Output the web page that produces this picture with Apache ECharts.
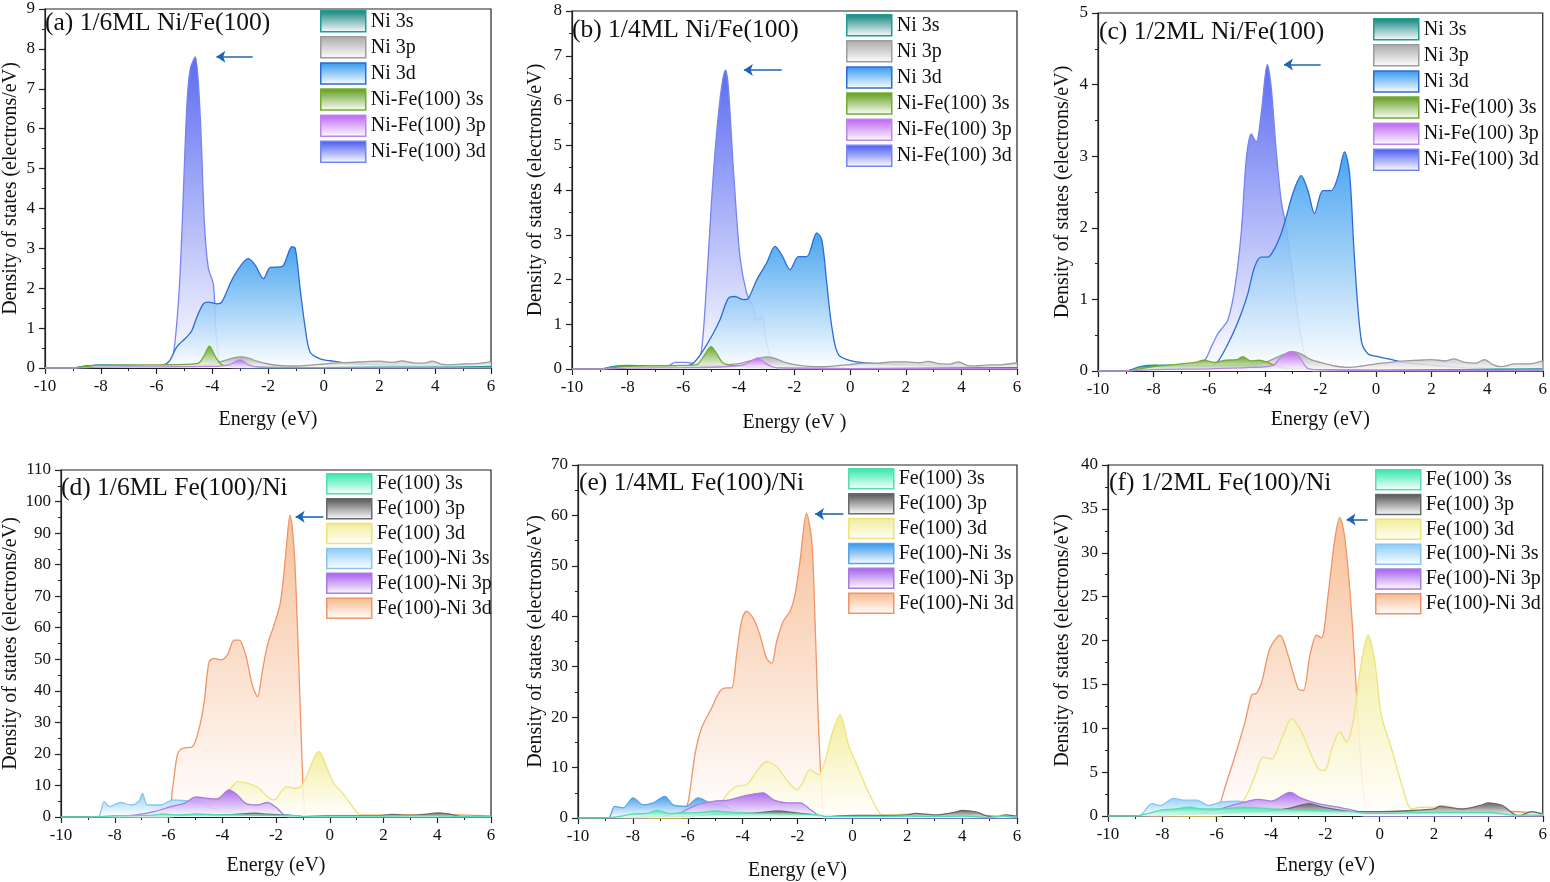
<!DOCTYPE html>
<html><head><meta charset="utf-8">
<script src="https://cdn.jsdelivr.net/npm/echarts@6/dist/echarts.min.js"></script>
<style>html,body{margin:0;padding:0;background:#fff}#c{width:1550px;height:882px}</style>
</head><body><div id="c"></div>
<script>
// ---------------- DATA ----------------
const titles = ['(a) 1/6ML Ni/Fe(100)','(b) 1/4ML Ni/Fe(100)','(c) 1/2ML Ni/Fe(100)','(d) 1/6ML Fe(100)/Ni','(e) 1/4ML Fe(100)/Ni','(f) 1/2ML Fe(100)/Ni'];
const xNames = ['Energy (eV)','Energy (eV )','Energy (eV)','Energy (eV)','Energy (eV)','Energy (eV)'];
const yName = 'Density of states (electrons/eV)';
const xMin = -10, xMax = 6, xInterval = 2;
const yMaxes = [9, 8, 5, 110, 70, 40];
const yIntervals = [1, 1, 1, 10, 10, 5];
const topNames = ['Ni 3s','Ni 3p','Ni 3d','Ni-Fe(100) 3s','Ni-Fe(100) 3p','Ni-Fe(100) 3d'];
const bottomNames = ['Fe(100) 3s','Fe(100) 3p','Fe(100) 3d','Fe(100)-Ni 3s','Fe(100)-Ni 3p','Fe(100)-Ni 3d'];
// arrow annotations: [x start, x end (head), y]
const arrows = [[-2.55,-3.85,7.8],[-2.46,-3.82,6.68],[-1.99,-3.31,4.28],[-0.24,-1.27,95.2],[-0.33,-1.36,60.3],[-0.45,-1.22,33.8]];

// panel (a)
const a_Ni3s = [[-10,0],[-9,0],[-8.5,0.05],[-8,0.07],[-7,0.07],[-6,0.06],[-5,0.07],[-4.5,0.06],[-4,0.05],[-3.5,0.03],[-3,0.02],[-2,0.01],[0,0.01],[2,0.02],[4,0.02],[6,0.04]];
const a_Ni3p = [[-10,0],[-9,0],[-8.5,0.03],[-7,0.04],[-6,0.04],[-5,0.06],[-4,0.1],[-3.6,0.18],[-3.2,0.26],[-3.0,0.28],[-2.7,0.25],[-2.4,0.17],[-2,0.1],[-1.5,0.06],[-1,0.05],[-0.5,0.07],[0,0.1],[0.5,0.13],[1,0.14],[1.5,0.16],[2,0.17],[2.5,0.14],[2.8,0.18],[3.2,0.13],[3.6,0.12],[3.9,0.17],[4.2,0.1],[4.5,0.08],[5,0.1],[5.5,0.11],[6,0.16]];
const a_Ni3d = [[-10,0],[-9,0],[-8.5,0.05],[-8,0.07],[-7,0.06],[-6,0.05],[-5.57,0.15],[-5.27,0.53],[-4.91,0.78],[-4.73,0.94],[-4.55,1.28],[-4.32,1.61],[-4.14,1.65],[-3.84,1.61],[-3.66,1.65],[-3.24,2.28],[-2.7,2.74],[-2.46,2.58],[-2.16,2.24],[-1.92,2.52],[-1.5,2.54],[-1.14,3.04],[-1.02,3.0],[-0.84,1.95],[-0.67,1.03],[-0.49,0.4],[-0.13,0.23],[0.35,0.17],[0.95,0.11],[2,0.08],[3,0.06],[4,0.05],[5,0.04],[6,0.03]];
const a_NiFe3s = [[-10,0],[-9,0],[-8.5,0.04],[-8,0.07],[-7,0.07],[-6,0.08],[-5,0.09],[-4.5,0.12],[-4.3,0.3],[-4.1,0.55],[-3.9,0.3],[-3.7,0.1],[-3.4,0.04],[-3,0.02],[0,0.01],[6,0.01]];
const a_NiFe3p = [[-10,0],[-9,0],[-8,0.02],[-6,0.03],[-4,0.04],[-3.4,0.08],[-3.0,0.2],[-2.7,0.08],[-2.3,0.02],[0,0.01],[6,0.01]];
const a_NiFe3d = [[-10,0],[-9,0],[-8.5,0.04],[-7,0.05],[-6,0.06],[-5.57,0.1],[-5.39,0.36],[-5.2,1.8],[-5.09,3.4],[-4.91,6.6],[-4.79,7.5],[-4.61,7.8],[-4.43,6.3],[-4.28,3.6],[-4.14,2.5],[-3.96,2.1],[-3.86,0.86],[-3.72,0.1],[-3.5,0.03],[-3,0],[6,0]];

// panel (b)
const b_Ni3s = [[-10,0],[-9,0],[-8.5,0.06],[-8,0.08],[-7,0.07],[-6,0.06],[-5,0.08],[-4,0.06],[-3.5,0.04],[-3,0.02],[0,0.01],[3,0.02],[6,0.03]];
const b_Ni3p = [[-10,0],[-9,0],[-8.5,0.03],[-7,0.04],[-6,0.05],[-5,0.07],[-4,0.12],[-3.5,0.2],[-3.0,0.27],[-2.7,0.24],[-2.4,0.16],[-2,0.1],[-1.5,0.06],[-1,0.05],[-0.5,0.07],[0,0.1],[0.5,0.13],[1,0.13],[1.5,0.16],[2,0.16],[2.5,0.14],[2.8,0.17],[3.2,0.12],[3.6,0.11],[3.9,0.16],[4.2,0.08],[4.5,0.07],[5,0.09],[5.5,0.1],[6,0.14]];
const b_Ni3d = [[-10,0],[-9,0],[-8.5,0.05],[-8,0.07],[-7,0.06],[-6,0.06],[-5.64,0.13],[-5.34,0.36],[-4.92,0.8],[-4.68,1.1],[-4.38,1.58],[-4.14,1.62],[-3.84,1.55],[-3.66,1.58],[-3.36,1.99],[-3.0,2.37],[-2.7,2.74],[-2.46,2.55],[-2.16,2.22],[-1.86,2.51],[-1.56,2.51],[-1.2,3.04],[-1.02,2.89],[-0.84,1.92],[-0.66,0.95],[-0.42,0.32],[0.12,0.17],[1,0.12],[2,0.09],[3,0.07],[4,0.05],[5,0.04],[6,0.03]];
const b_NiFe3s = [[-10,0],[-9,0],[-8.5,0.03],[-8,0.06],[-7,0.07],[-6,0.08],[-5.5,0.1],[-5.25,0.3],[-5.0,0.5],[-4.8,0.35],[-4.6,0.15],[-4.3,0.08],[-3.5,0.04],[-3,0.02],[0,0.01],[6,0.01]];
const b_NiFe3p = [[-10,0],[-9,0],[-8,0.02],[-6,0.03],[-4.5,0.05],[-3.8,0.1],[-3.3,0.25],[-3.1,0.15],[-2.8,0.05],[-2.4,0.02],[0,0.01],[6,0.01]];
const b_NiFe3d = [[-10,0],[-9,0],[-8.5,0.04],[-7,0.05],[-6.5,0.08],[-6.3,0.15],[-5.9,0.15],[-5.52,0.12],[-5.34,0.43],[-5.16,1.92],[-4.98,3.78],[-4.8,5.27],[-4.62,6.31],[-4.48,6.68],[-4.38,6.31],[-4.2,4.5],[-3.96,2.5],[-3.72,1.7],[-3.48,1.36],[-3.36,1.1],[-3.18,1.18],[-3.0,0.58],[-2.76,0.06],[-2.5,0],[6,0]];

// panel (c)
const c_Ni3s = [[-10,0],[-9,0],[-8.5,0.06],[-8,0.08],[-7,0.08],[-6,0.07],[-5,0.08],[-4,0.06],[-3.5,0.04],[-3,0.02],[0,0.01],[3,0.02],[6,0.03]];
const c_Ni3p = [[-10,0],[-9,0],[-8.5,0.03],[-7,0.04],[-6,0.05],[-5,0.07],[-4,0.12],[-3.5,0.2],[-3.0,0.27],[-2.7,0.24],[-2.4,0.17],[-2,0.12],[-1.5,0.07],[-1,0.05],[-0.5,0.07],[0,0.1],[0.5,0.12],[1,0.14],[1.5,0.15],[2,0.16],[2.5,0.14],[2.8,0.17],[3.2,0.12],[3.6,0.11],[3.9,0.16],[4.2,0.09],[4.5,0.06],[5,0.1],[5.5,0.1],[6,0.14]];
const c_Ni3d = [[-10,0],[-9,0],[-8.5,0.05],[-8,0.07],[-7,0.06],[-6,0.06],[-5.69,0.13],[-5.21,0.47],[-4.85,0.8],[-4.61,1.08],[-4.37,1.45],[-4.13,1.59],[-3.89,1.59],[-3.65,1.71],[-3.41,1.92],[-3.23,2.15],[-2.99,2.48],[-2.69,2.73],[-2.45,2.52],[-2.21,2.2],[-1.91,2.52],[-1.61,2.52],[-1.37,2.71],[-1.13,3.06],[-0.95,2.76],[-0.77,1.55],[-0.53,0.43],[-0.29,0.24],[0.07,0.2],[0.67,0.15],[1,0.12],[2,0.08],[3,0.05],[4,0.04],[5,0.03],[6,0.03]];
const c_NiFe3s = [[-10,0],[-9,0],[-8.5,0.03],[-8,0.06],[-7.5,0.08],[-7,0.1],[-6.5,0.12],[-6.2,0.15],[-5.8,0.12],[-5.4,0.15],[-5,0.16],[-4.8,0.2],[-4.5,0.14],[-4.2,0.15],[-3.9,0.12],[-3.5,0.06],[-3,0.03],[0,0.01],[6,0.01]];
const c_NiFe3p = [[-10,0],[-9,0],[-8,0.02],[-6,0.03],[-4.5,0.05],[-3.7,0.08],[-3.4,0.2],[-3.05,0.27],[-2.8,0.22],[-2.5,0.05],[-2.2,0.02],[0,0.01],[6,0.01]];
const c_NiFe3d = [[-10,0],[-9,0],[-8.5,0.04],[-7,0.05],[-6.5,0.08],[-6.16,0.15],[-5.92,0.34],[-5.69,0.52],[-5.51,0.61],[-5.33,0.71],[-5.09,1.13],[-4.85,1.92],[-4.67,2.94],[-4.49,3.31],[-4.31,3.2],[-4.13,3.59],[-3.91,4.28],[-3.77,3.97],[-3.59,3.08],[-3.41,2.38],[-3.23,2.01],[-3.05,1.5],[-2.81,0.75],[-2.57,0.24],[-2.39,0.03],[-2.2,0],[6,0]];

// panel (d)
const d_Fe3s = [[-10,0],[-9,0],[-8.5,0.2],[-8,0.4],[-7,0.5],[-6.5,0.7],[-6.2,1.0],[-5.8,0.7],[-5.2,0.8],[-5,1.0],[-4.5,0.8],[-4,0.7],[-3,0.6],[-2,0.5],[-1.2,0.4],[-1,0.2],[0,0.3],[2,0.3],[4,0.4],[5,0.2],[6,0.2]];
const d_Fe3p = [[-10,0],[-9,0],[-8,0.1],[-7,0.2],[-6,0.3],[-5,0.6],[-4,0.7],[-3.5,0.8],[-2.8,1.2],[-2.3,0.9],[-1.5,0.5],[-1,0.1],[-0.5,0.3],[0,0.4],[1,0.4],[2,0.5],[2.3,0.8],[3,0.5],[3.7,1.0],[4,1.3],[4.4,1.0],[4.8,0.3],[5.2,0.2],[5.6,0.3],[6,0.2]];
const d_Fe3d = [[-10,0],[-6,0],[-5.54,0.6],[-4.8,2.7],[-4.18,5.9],[-3.68,9.1],[-3.44,11.2],[-3.07,10.7],[-2.63,9.1],[-2.32,6.4],[-2.07,5.4],[-1.76,8.6],[-1.58,9.6],[-1.33,9.1],[-1.08,9.6],[-0.84,13.3],[-0.53,19.7],[-0.4,20.7],[-0.15,16.5],[0.15,10.7],[0.53,7.0],[0.9,2.7],[1.15,0.6],[1.5,0.5],[2,0.6],[3,0.5],[4,0.6],[5,0.4],[6,0.3]];
const d_FeNi3s = [[-10,0],[-8.64,0],[-8.39,4.9],[-8.2,3.3],[-7.77,4.6],[-7.4,3.8],[-7.1,5],[-6.97,7.5],[-6.78,3.8],[-6.28,3.8],[-5.85,5.4],[-5.29,5.1],[-4.8,4.9],[-4.3,2.7],[-3.56,1.2],[-3,0.8],[-2,0.8],[-1.5,0.7],[-1.1,0.3],[-0.9,0],[6,0]];
const d_FeNi3p = [[-10,0],[-8,0.2],[-7.28,0.6],[-6.53,1.7],[-5.91,3.3],[-5.42,4.3],[-4.98,6.4],[-4.55,5.9],[-4.18,5.7],[-3.75,8.6],[-3.44,7.0],[-3.13,4.3],[-2.69,3.8],[-2.32,4.6],[-1.95,2.7],[-1.7,0.6],[-1.5,0],[6,0]];
const d_FeNi3d = [[-10,0],[-6.1,0],[-5.85,9.1],[-5.67,19.7],[-5.48,21.8],[-5.11,22.3],[-4.86,28.1],[-4.67,36.6],[-4.49,49.2],[-4.3,50.3],[-4.06,49.8],[-3.81,51.4],[-3.56,56.1],[-3.37,56.1],[-3.13,51.4],[-2.88,41.8],[-2.69,38.1],[-2.51,46.1],[-2.32,54.5],[-2.07,60.9],[-1.83,68.3],[-1.64,83.1],[-1.48,95.7],[-1.33,85.2],[-1.21,61.9],[-1.08,30.2],[-0.96,4.9],[-0.84,0.3],[-0.5,0.3],[0,0.5],[2,0.6],[4,0.8],[6,0.3]];

// panel (e)
const e_Fe3s = [[-10,0],[-9,0],[-8.5,0.3],[-8,0.8],[-7.5,0.9],[-7.1,1.5],[-6.7,0.9],[-6.2,1.0],[-5.5,1.1],[-5,1.4],[-4.5,1.2],[-4,1.0],[-3,0.9],[-2,0.8],[-1.2,0.6],[-1,0.3],[0,0.3],[1,0.3],[2,0.4],[3,0.3],[4,0.4],[5,0.1],[5.5,0.4],[6,0.1]];
const e_Fe3p = [[-10,0],[-9,0],[-8,0.1],[-7,0.2],[-6,0.3],[-5,0.7],[-4,0.9],[-3.5,1.0],[-2.7,1.4],[-2.2,1.1],[-1.5,0.7],[-1,0.2],[-0.5,0.4],[0,0.5],[1,0.5],[2,0.6],[2.3,0.9],[3,0.6],[3.7,1.1],[4,1.5],[4.5,1.2],[4.9,0.4],[5.2,0.1],[5.6,0.6],[6,0.3]];
const e_Fe3d = [[-10,0],[-6,0],[-5.8,0.3],[-5.07,1.0],[-4.59,4.6],[-4.22,6.3],[-3.86,6.6],[-3.49,9.2],[-3.13,11.2],[-2.76,10.2],[-2.4,7.6],[-2.03,5.6],[-1.85,6.6],[-1.54,9.6],[-1.24,8.6],[-1.0,11.2],[-0.75,16.5],[-0.45,20.5],[-0.14,14.5],[0.16,10.6],[0.52,5.9],[0.95,1.3],[1.13,0.5],[1.5,0.6],[2,0.8],[3,0.6],[4,0.7],[5,0.3],[5.6,0.6],[6,0.2]];
const e_FeNi3s = [[-10,0],[-8.9,0],[-8.66,2.3],[-8.36,2.0],[-7.99,4.0],[-7.63,2.6],[-7.26,3.0],[-6.84,4.3],[-6.53,2.6],[-6.05,2.3],[-5.62,4.0],[-5.19,3.0],[-4.71,2.6],[-4.22,1.3],[-3.5,0.9],[-2.5,0.8],[-1.5,0.7],[-1.2,0.3],[-1.0,0],[6,0]];
const e_FeNi3p = [[-10,0],[-7.5,0.1],[-7.02,0.3],[-6.29,1.0],[-5.68,2.6],[-5.07,3.3],[-4.46,3.6],[-3.86,4.5],[-3.25,5.0],[-2.88,3.6],[-2.4,3.0],[-1.91,3.0],[-1.54,1.7],[-1.18,0.3],[-1.0,0],[6,0]];
const e_FeNi3d = [[-10,0],[-6.25,0],[-6.17,0.7],[-5.98,3.3],[-5.74,12.5],[-5.5,17.8],[-5.13,21.8],[-4.83,25.1],[-4.59,25.8],[-4.4,25.8],[-4.22,32.4],[-4.04,39.0],[-3.86,41.0],[-3.61,39.6],[-3.37,36.3],[-3.13,31.7],[-2.94,30.7],[-2.76,35.0],[-2.52,39.0],[-2.27,41.0],[-2.09,44.3],[-1.91,50.9],[-1.67,60.4],[-1.48,54.8],[-1.36,39.0],[-1.24,19.2],[-1.12,5.9],[-1.0,0.7],[0,0.5],[2,0.5],[4,0.6],[6,0.3]];

// panel (f)
const f_Fe3s = [[-10,0],[-9,0],[-8.5,0.3],[-8,0.7],[-7.5,0.8],[-7,1.0],[-6.5,0.8],[-6,0.8],[-5,1.0],[-4,0.8],[-3,0.7],[-2,0.6],[-1,0.5],[-0.5,0.3],[0,0.3],[2,0.4],[4,0.4],[5,0.1],[6,0.1]];
const f_Fe3p = [[-10,0],[-9,0],[-8,0.1],[-7,0.2],[-6,0.3],[-5,0.5],[-4,0.6],[-3.3,0.9],[-2.6,1.4],[-2.1,1.0],[-1.5,0.7],[-1,0.5],[0,0.5],[1,0.6],[2,0.8],[2.2,1.1],[3,0.8],[3.7,1.2],[4,1.5],[4.5,1.2],[4.9,0.3],[5.1,0.0],[5.6,0.5],[6,0.2]];
const f_Fe3d = [[-10,0],[-6,0],[-5.45,0.5],[-4.96,2.0],[-4.59,4.6],[-4.28,6.7],[-3.98,6.5],[-3.61,8.8],[-3.24,11.1],[-2.88,9.6],[-2.51,6.9],[-2.26,5.4],[-2.02,5.2],[-1.77,7.6],[-1.47,9.6],[-1.22,8.4],[-0.98,10.7],[-0.73,16.4],[-0.43,20.6],[-0.18,17.6],[0.06,11.5],[0.43,7.7],[0.86,3.1],[1.16,0.8],[1.5,1.0],[2,1.0],[2.3,1.2],[3,0.8],[4,1.0],[4.6,0.8],[5,0],[5.6,0.5],[6,0.2]];
const f_FeNi3s = [[-10,0],[-8.87,0],[-8.38,1.4],[-8.08,1.2],[-7.59,2.0],[-7.16,1.8],[-6.73,1.8],[-6.3,1.2],[-5.81,1.6],[-5.2,1.7],[-4.71,1.2],[-4,0.9],[-3,0.8],[-2,0.7],[-1,0.4],[-0.6,0],[6,0]];
const f_FeNi3p = [[-10,0],[-7.5,0.05],[-6.79,0.15],[-5.94,0.76],[-5.2,1.4],[-4.47,1.9],[-3.98,1.7],[-3.3,2.7],[-2.88,2.0],[-2.26,1.4],[-1.53,1.0],[-0.79,0.5],[-0.55,0],[6,0]];
const f_FeNi3d = [[-10,0],[-6.1,0],[-5.94,0.8],[-5.63,3.9],[-5.32,6.9],[-4.96,10.7],[-4.71,13.8],[-4.53,14.0],[-4.34,15.3],[-4.04,19.1],[-3.67,20.6],[-3.37,18.3],[-3.0,14.5],[-2.81,14.3],[-2.57,18.3],[-2.32,20.6],[-2.14,20.3],[-1.9,25.2],[-1.65,31.6],[-1.47,34.0],[-1.28,31.6],[-1.04,23.3],[-0.79,10.7],[-0.61,3.1],[-0.43,0.3],[0,0.5],[2,0.6],[4,0.6],[6,0.3]];

// series data per panel, in legend order
const panelData = [
  [a_Ni3s, a_Ni3p, a_Ni3d, a_NiFe3s, a_NiFe3p, a_NiFe3d],
  [b_Ni3s, b_Ni3p, b_Ni3d, b_NiFe3s, b_NiFe3p, b_NiFe3d],
  [c_Ni3s, c_Ni3p, c_Ni3d, c_NiFe3s, c_NiFe3p, c_NiFe3d],
  [d_Fe3s, d_Fe3p, d_Fe3d, d_FeNi3s, d_FeNi3p, d_FeNi3d],
  [e_Fe3s, e_Fe3p, e_Fe3d, e_FeNi3s, e_FeNi3p, e_FeNi3d],
  [f_Fe3s, f_Fe3p, f_Fe3d, f_FeNi3s, f_FeNi3p, f_FeNi3d]
];

// ---------------- STYLE / LAYOUT ----------------
const FONT = '"Liberation Serif", "Times New Roman", serif';
const styleMap = {
  'Ni 3s': {fill:'#10827c', line:'#1f9a94'},
  'Ni 3p': {fill:'#a9a9a9', line:'#9c9c9c'},
  'Ni 3d': {fill:'#2f98ee', line:'#2b6cd4'},
  'Ni-Fe(100) 3s': {fill:'#5e9c18', line:'#74ac30'},
  'Ni-Fe(100) 3p': {fill:'#bb62f2', line:'#b887e8'},
  'Ni-Fe(100) 3d': {fill:'#4658ef', line:'#7585ef'},
  'Fe(100) 3s': {fill:'#2ee8a6', line:'#55dcb0'},
  'Fe(100) 3p': {fill:'#505050', line:'#6a6a6a'},
  'Fe(100) 3d': {fill:'#f2ec94', line:'#ebe47c'},
  'Fe(100)-Ni 3s': {fill:'#86cbf7', line:'#8ac4ee'},
  'Fe(100)-Ni 3p': {fill:'#a45cee', line:'#a57de0'},
  'Fe(100)-Ni 3d': {fill:'#f6b88c', line:'#ef9466'}
};
const styleOverride = {4: {'Fe(100)-Ni 3s': {fill:'#2e92ea', line:'#55a5ea'}}};
const drawOrderTop = [5, 2, 1, 0, 3, 4];
const drawOrderBottom = [5, 2, 3, 4, 1, 0];
const grids = [
  {left:45, top:9, width:446, height:359},
  {left:572, top:11, width:445, height:358},
  {left:1098, top:13, width:445, height:358},
  {left:60, top:470, width:431, height:347},
  {left:578, top:465, width:439, height:353},
  {left:1108, top:465, width:436, height:351}
];
// [left, top, itemHeight, itemGap]
const legendPos = [[320,10,21,3.6],[846,14,21,3.6],[1373,18,21,3.6],[326,473,20,3.4],[848,468,20,3.4],[1375,469,20,3.3]];
const titlePos = [[45,10],[572,17],[1099,19],[61,475],[579,470],[1109,470]];
const xNameGap = [42,44,39,39,43,40];
const yNameGap = [24,26,25,40,32,35];

function grad(c){
  return {type:'linear', x:0, y:0, x2:0, y2:1, colorStops:[{offset:0,color:c},{offset:1,color:'#ffffff'}]};
}
function styleFor(p, name){
  return (styleOverride[p] && styleOverride[p][name]) || styleMap[name];
}

const option = {
  animation: false,
  backgroundColor: '#ffffff',
  title: [], grid: [], xAxis: [], yAxis: [], legend: [], series: []
};

for (let p = 0; p < 6; p++) {
  const names = p < 3 ? topNames : bottomNames;
  const order = p < 3 ? drawOrderTop : drawOrderBottom;
  const g = grids[p];
  option.grid.push(Object.assign({show:true, borderColor:'#222', borderWidth:1.2, backgroundColor:'rgba(0,0,0,0)'}, g));
  option.title.push({
    text: titles[p], left: titlePos[p][0], top: titlePos[p][1], padding: 0,
    textStyle: {fontFamily: FONT, fontSize: 25.5, fontWeight: 'normal', color: '#111'}
  });
  const axisCommon = {
    gridIndex: p,
    axisLine: {show:true, onZero:false, lineStyle:{color:'#222', width:1.2}},
    axisTick: {show:true, inside:false, length:6, lineStyle:{color:'#222', width:1.2}},
    minorTick: {show:true, splitNumber:2, length:3, lineStyle:{color:'#222', width:1}},
    splitLine: {show:false},
    nameLocation: 'middle',
    nameTextStyle: {fontFamily: FONT, fontSize: 20, color: '#111'}
  };
  option.xAxis.push(Object.assign({}, axisCommon, {
    type: 'value', min: xMin, max: xMax, interval: xInterval,
    name: xNames[p], nameGap: xNameGap[p],
    axisLabel: {fontFamily: FONT, fontSize: 17, color: '#111', margin: 10}
  }));
  option.yAxis.push(Object.assign({}, axisCommon, {
    type: 'value', min: 0, max: yMaxes[p], interval: yIntervals[p],
    name: yName, nameGap: yNameGap[p],
    axisLabel: {fontFamily: FONT, fontSize: 17, color: '#111', margin: 10}
  }));
  option.legend.push({
    orient: 'vertical', left: legendPos[p][0], top: legendPos[p][1], padding: 0,
    itemWidth: 45, itemHeight: legendPos[p][2], itemGap: legendPos[p][3],
    selectedMode: false,
    textStyle: {fontFamily: FONT, fontSize: 20, color: '#111'},
    data: names.map(n => {
      const s = styleFor(p, n);
      return {name: n, icon: 'rect', itemStyle: {color: grad(s.fill), borderColor: s.line, borderWidth: 1.5}};
    })
  });
  order.forEach((idx, k) => {
    const n = names[idx];
    const s = styleFor(p, n);
    const ser = {
      type: 'line', name: n, xAxisIndex: p, yAxisIndex: p,
      data: panelData[p][idx], symbol: 'none', showSymbol: false,
      smooth: 0.3, clip: true,
      lineStyle: {width: 1.3, color: s.line},
      itemStyle: {color: s.line},
      areaStyle: {color: grad(s.fill), opacity: 0.88},
      z: 2 + k
    };
    if (k === order.length - 1) {
      const a = arrows[p];
      ser.markLine = {
        silent: true, symbol: ['none', 'arrow'], symbolSize: 9,
        lineStyle: {color: '#1c66b0', width: 1.6, type: 'solid'},
        label: {show: false},
        data: [[{coord: [a[0], a[2]]}, {coord: [a[1], a[2]]}]]
      };
    }
    option.series.push(ser);
  });
}

const chart = echarts.init(document.getElementById('c'), null, {renderer: 'canvas'});
chart.setOption(option);
</script>
</body></html>
